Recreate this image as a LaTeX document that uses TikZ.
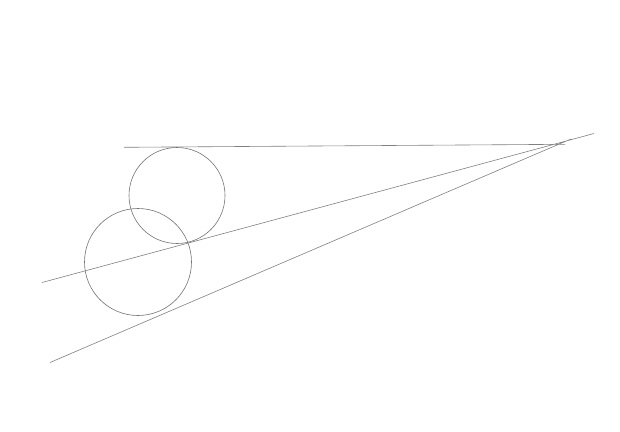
\documentclass[tikz,border=0pt]{standalone}
\usepackage{tikz}
\usepackage{amsmath}
\usepackage{amssymb}
\usepackage{xcolor}

\begin{document}
\begin{tikzpicture}[x=1pt,y=-1pt]
	\useasboundingbox (0,0) rectangle (620,431);
	\coordinate (o1) at (177,195.5);
	\coordinate (o2) at (138,262);
	\coordinate (h1) at (124,147.3);
	\coordinate (h2) at (565,144.3);
	\coordinate (m1) at (42,282.5);
	\coordinate (m2) at (594,133.5);
	\coordinate (l1) at (50,362.5);
	\coordinate (l2) at (571,139);

	\draw [gray!90!black,line width=0.6pt] (o1) circle [radius=48pt];
	\draw [gray!90!black,line width=0.6pt] (o2) circle [radius=53.5pt];

	\draw [gray,line width=0.6pt] (h1) -- (h2) (m1) -- (m2) (l1) -- (l2);

\end{tikzpicture}
\end{document}
